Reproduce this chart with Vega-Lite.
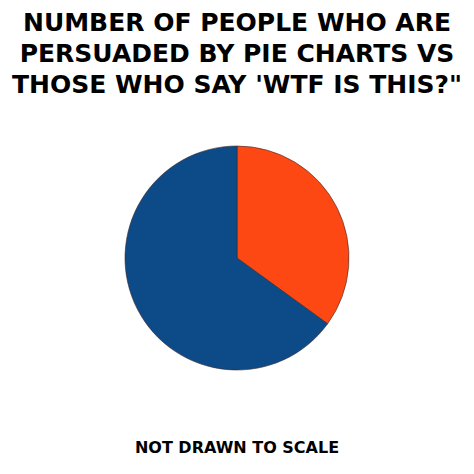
{
  "$schema": "https://vega.github.io/schema/vega-lite/v6.json",
  "background": "white",
  "padding": {"top": 11, "left": 0, "right": 0, "bottom": 0},
  "title": {
    "text": ["NUMBER OF PEOPLE WHO ARE", "PERSUADED BY PIE CHARTS VS", "THOSE WHO SAY 'WTF IS THIS?\""],
    "font": "DejaVu Sans",
    "fontSize": 25,
    "fontWeight": "bold",
    "lineHeight": 31,
    "color": "black",
    "anchor": "middle",
    "baseline": "top",
    "offset": 1
  },
  "vconcat": [
    {
      "width": 474,
      "height": 318,
      "title": {
        "text": "NOT DRAWN TO SCALE",
        "orient": "bottom",
        "font": "DejaVu Sans",
        "fontSize": 16,
        "fontWeight": "bold",
        "color": "black",
        "anchor": "middle",
        "offset": 23
      },
      "data": {
        "values": [
          {"group": "Persuaded by pie charts", "share": 35},
          {"group": "Say 'WTF is this?'", "share": 65}
        ]
      },
      "mark": {"type": "arc", "outerRadius": 112, "stroke": "#3a2a2a", "strokeWidth": 0.6},
      "encoding": {
        "theta": {"field": "share", "type": "quantitative", "stack": true},
        "order": {"field": "share", "sort": "ascending"},
        "color": {
          "field": "group",
          "type": "nominal",
          "scale": {"range": ["#fd4814", "#0c4a88"]},
          "legend": null
        }
      }
    }
  ],
  "config": {
    "view": {"stroke": null}
  }
}
